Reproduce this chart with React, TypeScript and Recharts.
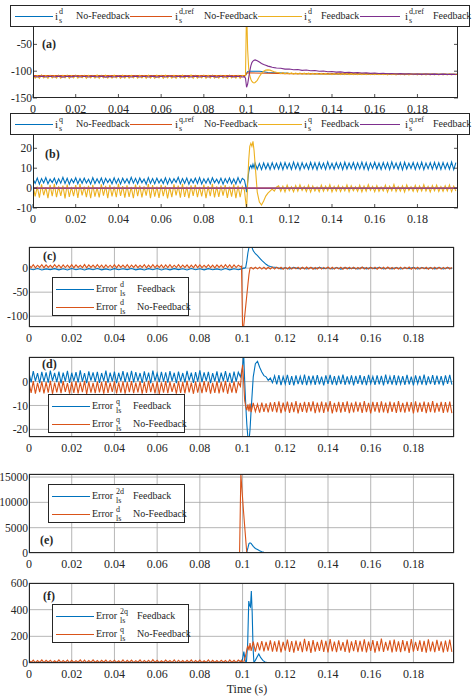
import type { ReactNode } from "react";
import { CartesianGrid, Line, LineChart, XAxis, YAxis } from "recharts";

const BLUE = "#0072BD";
const ORANGE = "#D95319";
const YELLOW = "#EDB120";
const PURPLE = "#7E2F8E";
const INK = "#262626";
const GRID = "#a3a3a3";
const SERIF = '"Liberation Serif", "Times New Roman", Times, serif';

const X_TICKS = [0, 0.02, 0.04, 0.06, 0.08, 0.1, 0.12, 0.14, 0.16, 0.18];
const X_MAX = 0.199;

// time samples (s) around the load step at 0.1 s
const T_MID = [
  0.099, 0.0995, 0.1, 0.1005, 0.101, 0.1015, 0.102, 0.1025, 0.103, 0.1035, 0.104,
  0.105, 0.106, 0.107, 0.108, 0.109, 0.11, 0.111, 0.112, 0.113, 0.114,
];

// coarse grid, for the thin traces
const T_PRE = [
  0, 0.002, 0.004, 0.006, 0.008, 0.01, 0.012, 0.014, 0.016, 0.018,
  0.02, 0.022, 0.024, 0.026, 0.028, 0.03, 0.032, 0.034, 0.036, 0.038,
  0.04, 0.042, 0.044, 0.046, 0.048, 0.05, 0.052, 0.054, 0.056, 0.058,
  0.06, 0.062, 0.064, 0.066, 0.068, 0.07, 0.072, 0.074, 0.076, 0.078,
  0.08, 0.082, 0.084, 0.086, 0.088, 0.09, 0.092, 0.094, 0.096, 0.098,
];
const T_POST = [
  0.116, 0.118, 0.12, 0.122, 0.124, 0.126, 0.128, 0.13, 0.132, 0.134,
  0.136, 0.138, 0.14, 0.142, 0.144, 0.146, 0.148, 0.15, 0.152, 0.154,
  0.156, 0.158, 0.16, 0.162, 0.164, 0.166, 0.168, 0.17, 0.172, 0.174,
  0.176, 0.178, 0.18, 0.182, 0.184, 0.186, 0.188, 0.19, 0.192, 0.194,
  0.196, 0.198,
];
const T = [...T_PRE, ...T_MID, ...T_POST];

// fine grid, for the rippling bands
const TF_PRE = [
  0, 0.001, 0.002, 0.003, 0.004, 0.005, 0.006, 0.007, 0.008, 0.009,
  0.01, 0.011, 0.012, 0.013, 0.014, 0.015, 0.016, 0.017, 0.018, 0.019,
  0.02, 0.021, 0.022, 0.023, 0.024, 0.025, 0.026, 0.027, 0.028, 0.029,
  0.03, 0.031, 0.032, 0.033, 0.034, 0.035, 0.036, 0.037, 0.038, 0.039,
  0.04, 0.041, 0.042, 0.043, 0.044, 0.045, 0.046, 0.047, 0.048, 0.049,
  0.05, 0.051, 0.052, 0.053, 0.054, 0.055, 0.056, 0.057, 0.058, 0.059,
  0.06, 0.061, 0.062, 0.063, 0.064, 0.065, 0.066, 0.067, 0.068, 0.069,
  0.07, 0.071, 0.072, 0.073, 0.074, 0.075, 0.076, 0.077, 0.078, 0.079,
  0.08, 0.081, 0.082, 0.083, 0.084, 0.085, 0.086, 0.087, 0.088, 0.089,
  0.09, 0.091, 0.092, 0.093, 0.094, 0.095, 0.096, 0.097, 0.098,
];
const TF_POST = [
  0.115, 0.116, 0.117, 0.118, 0.119, 0.12, 0.121, 0.122, 0.123, 0.124,
  0.125, 0.126, 0.127, 0.128, 0.129, 0.13, 0.131, 0.132, 0.133, 0.134,
  0.135, 0.136, 0.137, 0.138, 0.139, 0.14, 0.141, 0.142, 0.143, 0.144,
  0.145, 0.146, 0.147, 0.148, 0.149, 0.15, 0.151, 0.152, 0.153, 0.154,
  0.155, 0.156, 0.157, 0.158, 0.159, 0.16, 0.161, 0.162, 0.163, 0.164,
  0.165, 0.166, 0.167, 0.168, 0.169, 0.17, 0.171, 0.172, 0.173, 0.174,
  0.175, 0.176, 0.177, 0.178, 0.179, 0.18, 0.181, 0.182, 0.183, 0.184,
  0.185, 0.186, 0.187, 0.188, 0.189, 0.19, 0.191, 0.192, 0.193, 0.194,
  0.195, 0.196, 0.197, 0.198,
];
const TF = [...TF_PRE, ...T_MID, ...TF_POST];

// (a) d-axis currents
const A_BLUE_T = [0, 0.0995, 0.1, 0.1005, 0.101, 0.1015, 0.106, 0.108, 0.11, 0.12, 0.14, 0.199];
const A_BLUE = [-108, -108, -104, -101, -100, -100, -100, -101, -102.5, -104, -105, -106];
const A_ORANGE_T = [0, 0.0995, 0.1, 0.1005, 0.12, 0.199];
const A_ORANGE = [-108, -108, -104, -103, -104.5, -106];
const A_YELLOW = [
  -107.6, -112.9, -108.3, -113.2, -107.2, -112.4, -108.1, -113.4, -107.8, -112.6,
  -108.4, -112.8, -107.3, -113.1, -108.0, -112.5, -107.5, -113.3, -108.2, -112.7,
  -107.4, -113.0, -108.5, -112.3, -107.7, -113.2, -107.9, -112.6, -108.3, -112.9,
  -107.1, -113.4, -108.0, -112.4, -107.6, -113.1, -108.4, -112.8, -107.5, -112.5,
  -108.2, -113.3, -107.3, -112.7, -108.1, -113.0, -107.8, -112.4, -108.0, -112.9,
  -107.9, -112.6, -108.2, -113.1, -107.4, -112.8, -108.5, -113.3, -107.6, -112.5,
  -108.0, -113.2, -107.3, -112.7, -108.3, -112.9, -107.7, -113.4, -108.1, -112.4,
  -107.5, -113.0, -108.4, -112.6, -107.2, -113.1, -107.9, -112.8, -108.2, -112.5,
  -107.6, -113.3, -108.0, -112.7, -107.4, -112.9, -108.3, -113.0, -107.8, -112.4,
  -108.1, -113.2, -107.5, -112.6, -108.4, -112.8, -107.7, -113.1, -108.0,
  -110.5, -108.0, 20, -60, -95, -108, -115, -119, -121, -122, -121,
  -117, -110, -104, -100, -98, -97.5, -98, -99.5, -101, -102,
  -102.4, -104.6, -102.8, -104.9, -103.0, -105.1, -103.2, -105.3, -103.4, -105.4,
  -103.5, -105.6, -103.7, -105.7, -103.8, -105.8, -103.9, -105.9, -104.0, -106.0,
  -104.1, -106.0, -104.2, -106.1, -104.3, -106.2, -104.3, -106.2, -104.4, -106.3,
  -104.5, -106.3, -104.5, -106.4, -104.6, -106.4, -104.6, -106.5, -104.7, -106.4,
  -104.7, -106.5, -104.8, -106.6, -104.7, -106.5, -104.8, -106.6, -104.9, -106.5,
  -104.8, -106.7, -104.9, -106.6, -105.0, -106.7, -104.9, -106.6, -105.0, -106.8,
  -104.9, -106.7, -105.1, -106.6, -105.0, -106.8, -104.9, -106.7, -105.1, -106.8,
  -105.0, -106.7, -105.1, -106.9, -105.0, -106.8, -105.2, -106.7, -105.1, -106.9,
  -105.0, -106.8, -105.2, -106.8,
];
const A_PURPLE = [
  -109.4, -110.8, -109.2, -110.9, -109.5, -110.7, -109.3, -111.0, -109.4, -110.6,
  -109.1, -110.8, -109.5, -110.9, -109.3, -110.7, -109.2, -111.0, -109.6, -110.8,
  -109.3, -110.6, -109.4, -110.9, -109.2, -110.8, -109.5, -110.7, -109.3, -111.0,
  -109.4, -110.8, -109.1, -110.9, -109.5, -110.6, -109.3, -110.8, -109.2, -110.9,
  -109.4, -110.7, -109.3, -111.0, -109.5, -110.8, -109.2, -110.6, -109.4, -110.9,
  -110.3, -113, -130, -124, -112, -100, -90, -84, -81, -79.5, -79,
  -80.5, -83, -85.5, -87.5, -89, -90.5, -91.5, -92.5, -93.3, -94,
  -94.6, -96.2, -95.8, -97.3, -96.9, -98.4, -97.9, -99.3, -98.8, -100.2,
  -99.7, -101.0, -100.5, -101.7, -101.2, -102.4, -101.9, -103.0, -102.5, -103.5,
  -103.0, -104.0, -103.5, -104.4, -103.9, -104.8, -104.3, -105.1, -104.6, -105.4,
  -104.9, -105.7, -105.1, -105.9, -105.3, -106.0, -105.4, -106.1, -105.5, -106.2,
  -105.6, -106.2,
];

// (b) q-axis currents
const B_BLUE = [
  4.6, 2.4, 5.1, 2.0, 4.8, 2.6, 5.3, 2.2, 4.5, 2.8,
  5.0, 2.1, 4.7, 2.5, 5.4, 2.3, 4.9, 2.0, 4.6, 2.7,
  5.2, 2.2, 4.8, 2.4, 5.0, 2.6, 4.5, 2.1, 5.3, 2.3,
  4.7, 2.5, 5.1, 2.0, 4.9, 2.8, 4.6, 2.2, 5.2, 2.4,
  4.8, 2.1, 5.0, 2.6, 4.7, 2.3, 5.4, 2.5, 4.9, 2.2,
  5.1, 2.7, 4.6, 2.0, 5.3, 2.4, 4.8, 2.2, 5.0, 2.6,
  4.5, 2.3, 5.2, 2.1, 4.9, 2.5, 4.7, 2.8, 5.4, 2.2,
  4.8, 2.4, 5.1, 2.0, 4.6, 2.6, 5.0, 2.3, 5.3, 2.1,
  4.7, 2.5, 4.9, 2.2, 5.2, 2.7, 4.5, 2.4, 5.0, 2.0,
  4.8, 2.6, 5.1, 2.3, 4.6, 2.1, 5.3, 2.5, 4.9,
  4.0, 1.5, -2, 3, 8, 10.5, 11.5, 10.0, 12.0, 10.2, 12.5,
  9.5, 12.3, 9.3, 12.6, 9.6, 12.4, 9.4, 12.8, 9.7, 12.5,
  9.6, 12.7, 9.3, 12.9, 9.8, 12.5, 9.4, 13.1, 9.7, 12.6,
  9.2, 12.8, 9.9, 12.4, 9.5, 13.0, 9.6, 12.7, 9.3, 12.9,
  9.8, 12.6, 9.4, 13.2, 9.7, 12.5, 9.5, 12.8, 9.9, 12.7,
  9.3, 13.0, 9.6, 12.6, 9.8, 12.9, 9.4, 12.7, 9.7, 13.1,
  9.5, 12.8, 9.2, 12.6, 9.9, 13.0, 9.6, 12.5, 9.4, 12.9,
  9.7, 12.7, 9.3, 13.2, 9.8, 12.6, 9.5, 12.8, 9.2, 13.0,
  9.6, 12.5, 9.9, 12.9, 9.4, 12.7, 9.7, 13.1, 9.3, 12.6,
  9.8, 12.8, 9.5, 13.0, 9.6, 12.7, 9.4, 12.9, 9.7, 12.6,
  9.5, 13.1, 9.3, 12.8,
];
const B_YELLOW = [
  1.4, -4.2, 0.8, -4.8, 1.9, -3.6, 0.5, -5.0, 1.6, -4.1,
  2.2, -4.6, 0.9, -3.9, 1.3, -5.2, 1.8, -4.4, 0.6, -4.0,
  1.5, -4.9, 2.0, -3.7, 0.7, -4.5, 1.2, -5.1, 1.7, -4.3,
  0.4, -4.7, 1.9, -3.8, 1.1, -5.0, 1.6, -4.2, 0.8, -4.6,
  2.1, -3.9, 1.0, -4.8, 1.4, -4.4, 0.6, -5.1, 1.8, -4.0,
  1.3, -4.7, 0.9, -3.8, 2.0, -5.0, 1.5, -4.3, 0.7, -4.9,
  1.7, -4.1, 1.1, -5.2, 0.5, -4.5, 1.9, -3.7, 1.2, -4.8,
  2.2, -4.4, 0.8, -5.0, 1.4, -3.9, 1.6, -4.6, 0.6, -4.2,
  1.8, -5.1, 1.0, -4.0, 2.1, -4.7, 0.9, -4.4, 1.3, -3.8,
  1.5, -4.9, 0.7, -4.3, 1.9, -5.0, 1.2, -4.5, 0.8,
  -1.0, -6, -10.5, 2, 14, 21, 22.5, 21, 23.5, 19, 12,
  -2, -7, -8.5, -6.5, -4, -2.5, -1.5, -0.5, -1.5, 0.5,
  1.2, -1.6, 0.9, -1.9, 1.5, -1.3, 0.7, -1.8, 1.3, -1.5,
  1.6, -1.2, 0.8, -1.7, 1.4, -2.0, 1.1, -1.4, 0.6, -1.8,
  1.5, -1.6, 1.0, -1.3, 1.7, -1.9, 0.9, -1.5, 1.3, -1.7,
  0.8, -1.4, 1.6, -1.8, 1.2, -1.3, 0.7, -1.6, 1.4, -1.9,
  1.1, -1.5, 1.7, -1.2, 0.9, -1.8, 1.3, -1.6, 0.6, -1.4,
  1.5, -2.0, 1.0, -1.3, 1.8, -1.7, 0.8, -1.5, 1.2, -1.9,
  1.6, -1.2, 0.7, -1.6, 1.4, -1.8, 1.1, -1.4, 1.7, -1.5,
  0.9, -1.9, 1.3, -1.3, 1.5, -1.7, 0.8, -1.6, 1.2, -1.4,
  1.6, -1.8, 1.0, -1.5,
];
const B_REF_T = [0, 0.199];
const B_ORANGE = [0, 0];
const B_PURPLE = [0, 0];

// (c) d-axis error
const C_BLUE = [
  -1.2, -3.4, -0.8, -3.8, -1.5, -3.1, -1.0, -3.6, -1.3, -3.9,
  -0.9, -3.3, -1.4, -3.7, -1.1, -3.2, -0.7, -3.5, -1.6, -3.8,
  -1.0, -3.4, -1.2, -3.0, -0.8, -3.6, -1.5, -3.9, -1.1, -3.3,
  -0.9, -3.7, -1.3, -3.5, -1.0, -3.1, -1.4, -3.8, -0.8, -3.4,
  -1.2, -3.6, -1.0, -3.2, -1.5, -3.9, -0.9, -3.5, -1.3, -3.3,
  -2.0, -2.0, -1.0, 0, 0, 2, 15, 32, 43, 50, 48,
  36, 30, 26, 21, 16, 12, 8, 5, 3.5, 2.5,
  1.2, -1.5, 0.9, -1.8, 1.5, -1.2, 0.7, -1.6, 1.3, -1.4,
  1.6, -1.1, 0.8, -1.7, 1.4, -1.9, 1.1, -1.3, 0.6, -1.6,
  1.5, -1.4, 1.0, -1.2, 1.7, -1.8, 0.9, -1.5, 1.3, -1.6,
  0.8, -1.3, 1.6, -1.7, 1.2, -1.2, 0.7, -1.5, 1.4, -1.8,
  1.1, -1.4,
];
const C_ORANGE = [
  6.4, 1.2, 7.0, 0.8, 6.1, 1.6, 7.3, 0.9, 6.7, 1.4,
  5.9, 1.0, 7.1, 1.7, 6.5, 0.7, 6.9, 1.3, 6.2, 1.1,
  7.2, 0.9, 6.6, 1.5, 6.0, 1.2, 7.4, 0.8, 6.8, 1.6,
  6.3, 1.0, 7.0, 1.4, 6.4, 0.7, 6.9, 1.3, 6.1, 1.1,
  7.3, 0.9, 6.7, 1.5, 6.2, 1.2, 7.1, 0.8, 6.5, 1.4,
  6.8, 1.1, 6.0, 1.6, 7.2, 0.8, 6.4, 1.3, 7.0, 1.0,
  6.3, 1.5, 6.9, 0.7, 6.6, 1.2, 7.4, 0.9, 6.1, 1.4,
  7.1, 1.0, 6.5, 1.7, 6.8, 0.8, 6.2, 1.3, 7.3, 1.1,
  6.7, 0.9, 6.0, 1.5, 7.0, 1.2, 6.4, 0.8, 6.9, 1.6,
  6.3, 1.0, 7.2, 1.4, 6.6, 0.7, 6.8, 1.3, 6.1,
  3.0, 4.0, -125, -122, -100, -78, -56, -34, -13, 0, 1.5,
  -1.8, 1.9, -1.6, 2.0, -1.9, 1.7, -2.1, 1.8, -1.7, 2.0,
  -1.9, 2.1, -1.6, 1.8, -2.2, 1.5, -1.7, 2.2, -2.0, 1.6,
  -1.5, 2.0, -2.1, 1.7, -1.8, 2.3, -1.6, 1.9, -2.2, 1.4,
  -1.7, 2.1, -2.0, 1.6, -1.5, 2.2, -1.9, 1.8, -2.1, 1.5,
  -1.6, 2.0, -2.3, 1.7, -1.8, 2.1, -1.5, 1.9, -2.0, 1.6,
  -1.7, 2.2, -1.9, 1.5, -2.1, 1.8, -1.6, 2.0, -2.2, 1.7,
  -1.5, 1.9, -2.0, 2.3, -1.8, 1.6, -2.1, 1.4, -1.7, 2.1,
  -1.9, 1.8, -1.6, 2.2, -2.3, 1.5, -1.8, 2.0, -2.0, 1.7,
  -1.5, 1.9, -2.2, 1.6, -1.7, 2.1, -1.9, 1.8, -2.1, 1.5,
  -1.6, 2.0, -1.8, 1.7,
];

// (d) q-axis error
const D_BLUE = [
  3.8, -0.3, 4.4, 0.2, 3.5, -0.6, 4.1, 0.0, 3.9, -0.4,
  4.6, 0.3, 3.6, -0.2, 4.2, -0.7, 3.8, 0.1, 4.5, -0.5,
  3.7, 0.2, 4.0, -0.3, 4.7, 0.0, 3.5, -0.6, 4.3, 0.4,
  3.9, -0.1, 4.1, -0.5, 3.6, 0.2, 4.6, -0.4, 3.8, 0.1,
  4.2, -0.6, 3.7, 0.3, 4.4, -0.2, 3.9, 0.0, 4.5, -0.3,
  4.0, 0.2, 3.6, -0.5, 4.3, 0.1, 3.8, -0.7, 4.6, 0.3,
  3.5, -0.2, 4.1, 0.0, 3.9, -0.4, 4.4, 0.2, 3.7, -0.6,
  4.2, 0.1, 3.6, -0.3, 4.5, 0.4, 3.8, -0.5, 4.0, 0.0,
  4.7, -0.2, 3.9, 0.3, 4.1, -0.6, 3.5, 0.1, 4.3, -0.4,
  3.8, 0.2, 4.4, -0.1, 3.7, -0.5, 4.2, 0.0, 3.9,
  2.0, 4.0, 6.0, 12, 0, -10, -18, -23.5, -25, -20, -12,
  2, 7.5, 8.5, 6, 4, 2.5, 2.0, 0.5, 1.5, -0.5,
  2.4, -1.2, 2.7, -1.5, 2.1, -1.0, 2.8, -1.4, 2.3, -1.6,
  2.6, -1.1, 2.2, -1.3, 2.9, -1.5, 2.4, -0.9, 2.5, -1.4,
  2.7, -1.2, 2.1, -1.6, 2.6, -1.0, 2.8, -1.3, 2.3, -1.5,
  2.5, -1.1, 2.9, -1.4, 2.2, -1.2, 2.6, -1.6, 2.4, -1.0,
  2.7, -1.3, 2.3, -1.5, 2.8, -0.9, 2.1, -1.4, 2.6, -1.2,
  2.4, -1.6, 2.9, -1.1, 2.2, -1.3, 2.7, -1.5, 2.5, -1.0,
  2.3, -1.4, 2.8, -1.2, 2.1, -1.6, 2.6, -0.9, 2.4, -1.3,
  2.9, -1.5, 2.2, -1.1, 2.7, -1.4, 2.5, -1.2, 2.3, -1.6,
  2.6, -1.0, 2.8, -1.3,
];
const D_ORANGE = [
  -0.3, -4.7, 0.2, -5.0, -0.5, -4.4, 0.0, -4.9, -0.2, -4.6,
  0.3, -5.1, -0.4, -4.5, -0.1, -4.8, 0.2, -4.3, -0.6, -5.0,
  -0.2, -4.7, 0.1, -4.9, -0.3, -4.4, 0.3, -5.2, -0.1, -4.6,
  -0.5, -4.8, 0.0, -4.5, -0.2, -5.0, 0.2, -4.7, -0.4, -4.3,
  0.1, -4.9, -0.3, -4.6, 0.0, -5.1, -0.2, -4.4, 0.2, -4.8,
  -0.4, -4.5, 0.1, -5.0, -0.2, -4.7, 0.3, -4.4, -0.5, -4.9,
  0.0, -5.2, -0.3, -4.6, 0.2, -4.8, -0.1, -4.3, -0.6, -5.0,
  0.1, -4.7, -0.2, -4.9, 0.3, -4.5, -0.4, -5.1, 0.0, -4.6,
  -0.3, -4.8, 0.2, -4.4, -0.1, -5.0, -0.5, -4.7, 0.1, -4.9,
  -0.2, -4.5, 0.3, -5.1, -0.4, -4.6, 0.0, -4.8, -0.3,
  -2.0, 3.0, 7.0, 0, -8, -10.5, -12, -9.5, -12.5, -9.2, -12.8,
  -8.9, -12.6, -9.4, -13.0, -8.8, -12.7, -9.1, -12.9, -8.7, -12.6,
  -8.6, -12.9, -8.3, -13.2, -8.8, -12.6, -8.4, -13.1, -8.7, -12.8,
  -8.2, -13.3, -8.9, -12.7, -8.5, -13.0, -8.6, -12.5, -8.3, -13.2,
  -8.8, -12.9, -8.4, -13.1, -8.7, -12.6, -8.2, -13.3, -8.9, -12.8,
  -8.5, -13.0, -8.6, -12.7, -8.3, -13.2, -8.8, -12.9, -8.4, -12.6,
  -8.7, -13.1, -8.2, -12.8, -8.9, -13.3, -8.5, -12.6, -8.6, -13.0,
  -8.3, -12.9, -8.8, -13.2, -8.4, -12.7, -8.7, -13.1, -8.2, -12.8,
  -8.9, -13.0, -8.5, -12.6, -8.6, -13.3, -8.3, -12.9, -8.8, -12.7,
  -8.4, -13.2, -8.7, -12.8, -8.2, -13.0, -8.9, -12.6, -8.5, -13.1,
  -8.6, -12.9, -8.4, -13.2,
];

// (e) squared d error
const E_BLUE_T = [0, 0.1015, 0.102, 0.1025, 0.103, 0.1035, 0.104, 0.105, 0.106, 0.107, 0.108, 0.109, 0.11, 0.111, 0.113, 0.199];
const E_BLUE = [0, 0, 225, 1000, 1850, 2000, 1900, 1300, 900, 680, 440, 250, 140, 64, 0, 0];
const E_ORANGE_T = [0, 0.0986, 0.0992, 0.0998, 0.1004, 0.101, 0.1016, 0.102, 0.199];
const E_ORANGE = [0, 0, 15600, 12000, 8500, 5200, 2000, 0, 0];

// (f) squared q error
const F_BLUE_T = [
  0, 0.0995, 0.1, 0.1006, 0.1012, 0.1018, 0.1024, 0.1029, 0.1033, 0.1037, 0.1041,
  0.1045, 0.1049, 0.1053, 0.106, 0.1068, 0.1076, 0.1085, 0.1095, 0.1105, 0.112, 0.199,
];
const F_BLUE = [5, 5, 30, 85, 20, 2, 150, 465, 430, 420, 540, 380, 120, 5, 20, 45, 68, 40, 20, 8, 2, 1];
const F_ORANGE = [
  19, 4, 22, 2, 18, 5, 24, 3, 20, 6,
  21, 2, 17, 4, 23, 3, 19, 5, 22, 2,
  20, 4, 18, 6, 24, 3, 21, 2, 19, 5,
  23, 4, 18, 3, 20, 6, 22, 2, 19, 4,
  21, 5, 17, 3, 24, 2, 20, 4, 22, 3,
  18, 6, 23, 2, 19, 4, 21, 3, 25, 5,
  20, 2, 17, 4, 22, 6, 19, 3, 24, 2,
  21, 5, 18, 3, 20, 4, 23, 2, 19, 6,
  22, 3, 17, 5, 24, 2, 20, 4, 18, 3,
  21, 6, 19, 2, 23, 4, 20, 3, 22,
  10, 20, 5, 2, 30, 60, 100, 130, 95, 150, 90,
  160, 85, 155, 95, 165, 88, 158, 92, 170, 85,
  162, 86, 170, 80, 158, 92, 176, 84, 165, 78,
  168, 90, 160, 82, 182, 88, 164, 76, 171, 85,
  159, 91, 174, 83, 166, 79, 180, 87, 161, 81,
  169, 93, 157, 84, 175, 78, 163, 89, 172, 82,
  167, 86, 178, 80, 160, 90, 171, 77, 164, 88,
  183, 84, 158, 92, 169, 79, 176, 86, 162, 81,
  172, 89, 165, 76, 180, 85, 159, 91, 170, 83,
  166, 78, 177, 87, 161, 82, 173, 90, 163, 80,
  168, 86, 175, 84,
];

const pts = (t: number[], v: number[]) => t.map((x, i) => ({ t: x, v: v[i] }));

interface Series {
  key: string;
  color: string;
  t: number[];
  v: number[];
}

interface PanelDef {
  id: string;
  box: { left: number; right: number; top: number; bottom: number };
  domain: [number, number];
  yTicks: number[];
  grid: boolean;
  tag: { x: number; y: number };
  series: Series[];
}

const PANELS: PanelDef[] = [
  {
    id: "a",
    box: { left: 33, right: 458, top: 26, bottom: 98 },
    domain: [-150, -15.7],
    yTicks: [-150, -100, -50],
    grid: false,
    tag: { x: 42, y: 44 },
    series: [
      { key: "blue", color: BLUE, t: A_BLUE_T, v: A_BLUE },
      { key: "orange", color: ORANGE, t: A_ORANGE_T, v: A_ORANGE },
      { key: "yellow", color: YELLOW, t: TF, v: A_YELLOW },
      { key: "purple", color: PURPLE, t: T, v: A_PURPLE },
    ],
  },
  {
    id: "b",
    box: { left: 33, right: 458, top: 134, bottom: 208 },
    domain: [-10, 27.2],
    yTicks: [-10, 0, 10, 20],
    grid: false,
    tag: { x: 45, y: 154 },
    series: [
      { key: "blue", color: BLUE, t: TF, v: B_BLUE },
      { key: "orange", color: ORANGE, t: B_REF_T, v: B_ORANGE },
      { key: "yellow", color: YELLOW, t: TF, v: B_YELLOW },
      { key: "purple", color: PURPLE, t: B_REF_T, v: B_PURPLE },
    ],
  },
  {
    id: "c",
    box: { left: 29, right: 454, top: 247, bottom: 327 },
    domain: [-122.5, 44],
    yTicks: [-100, -50, 0],
    grid: true,
    tag: { x: 43, y: 256 },
    series: [
      { key: "blue", color: BLUE, t: T, v: C_BLUE },
      { key: "orange", color: ORANGE, t: TF, v: C_ORANGE },
    ],
  },
  {
    id: "d",
    box: { left: 29, right: 454, top: 357, bottom: 437 },
    domain: [-23.2, 10.3],
    yTicks: [-20, -10, 0],
    grid: true,
    tag: { x: 42, y: 364 },
    series: [
      { key: "blue", color: BLUE, t: TF, v: D_BLUE },
      { key: "orange", color: ORANGE, t: TF, v: D_ORANGE },
    ],
  },
  {
    id: "e",
    box: { left: 29, right: 454, top: 474, bottom: 553 },
    domain: [0, 15600],
    yTicks: [0, 5000, 10000, 15000],
    grid: true,
    tag: { x: 40, y: 540 },
    series: [
      { key: "blue", color: BLUE, t: E_BLUE_T, v: E_BLUE },
      { key: "orange", color: ORANGE, t: E_ORANGE_T, v: E_ORANGE },
    ],
  },
  {
    id: "f",
    box: { left: 29, right: 454, top: 583, bottom: 663 },
    domain: [0, 600],
    yTicks: [0, 200, 400, 600],
    grid: true,
    tag: { x: 43, y: 596 },
    series: [
      { key: "blue", color: BLUE, t: F_BLUE_T, v: F_BLUE },
      { key: "orange", color: ORANGE, t: TF, v: F_ORANGE },
    ],
  },
];

const PAD = 8;
const X_AXIS_H = 22;
const fmtX = (v: number) => String(+v.toFixed(2));

function Panel({ p }: { p: PanelDef }) {
  const { box } = p;
  const plotW = box.right - box.left;
  const plotH = box.bottom - box.top;
  const bottomY = PAD + plotH;

  const xTick = (props: any) => {
    const { x, payload } = props;
    return (
      <g>
        {!p.grid && <line x1={x} x2={x} y1={bottomY} y2={bottomY - 4} stroke={INK} strokeWidth={0.8} />}
        <text x={x} y={bottomY + 10.5} dy="0.35em" textAnchor="middle" fill={INK} fontSize={12} fontFamily={SERIF}>
          {fmtX(payload.value)}
        </text>
      </g>
    );
  };

  const yTick = (props: any) => {
    const { y, payload } = props;
    return (
      <g>
        {!p.grid && (
          <>
            <line x1={box.left} x2={box.left + 4} y1={y} y2={y} stroke={INK} strokeWidth={0.8} />
            <line x1={box.right - 4} x2={box.right} y1={y} y2={y} stroke={INK} strokeWidth={0.8} />
          </>
        )}
        <text x={box.left - 1} y={y} dy="0.35em" textAnchor="end" fill={INK} fontSize={11.5} fontFamily={SERIF}>
          {payload.value}
        </text>
      </g>
    );
  };

  return (
    <>
      <div style={{ position: "absolute", left: 0, top: box.top - PAD }}>
        <LineChart
          width={474}
          height={PAD + plotH + X_AXIS_H}
          margin={{ top: PAD, right: 474 - box.right, bottom: 0, left: 0 }}
        >
          {p.grid && <CartesianGrid stroke={GRID} strokeWidth={0.8} />}
          <XAxis
            dataKey="t"
            type="number"
            domain={[0, X_MAX]}
            ticks={X_TICKS}
            interval={0}
            allowDataOverflow
            height={X_AXIS_H}
            axisLine={false}
            tickLine={false}
            tick={xTick}
          />
          <YAxis
            type="number"
            domain={p.domain}
            ticks={p.yTicks}
            interval={0}
            allowDataOverflow
            width={box.left}
            axisLine={false}
            tickLine={false}
            tick={yTick}
          />
          {p.series.map((s) => (
            <Line
              key={s.key}
              name={`${p.id}-${s.key}`}
              data={pts(s.t, s.v)}
              dataKey="v"
              type="linear"
              stroke={s.color}
              strokeWidth={1.1}
              dot={false}
              activeDot={false}
              isAnimationActive={false}
            />
          ))}
        </LineChart>
      </div>
      <div
        style={{
          position: "absolute",
          left: box.left,
          top: box.top,
          width: plotW,
          height: plotH,
          border: `1px solid ${INK}`,
          boxSizing: "border-box",
          pointerEvents: "none",
        }}
      />
      <div
        style={{
          position: "absolute",
          left: p.tag.x,
          top: p.tag.y - 8,
          lineHeight: "16px",
          fontSize: 12,
          fontWeight: "bold",
        }}
      >
        ({p.id})
      </div>
    </>
  );
}

function Stack({ sup, sub }: { sup: string; sub: string }) {
  return (
    <span
      style={{
        display: "inline-flex",
        flexDirection: "column",
        fontSize: 8,
        lineHeight: "9px",
        marginLeft: 1,
      }}
    >
      <span>{sup}</span>
      <span>{sub}</span>
    </span>
  );
}

function SwatchLine({ x1, x2, y, color }: { x1: number; x2: number; y: number; color: string }) {
  return (
    <div
      style={{ position: "absolute", left: x1, top: Math.round(y), width: x2 - x1, height: 1.3, background: color }}
    />
  );
}

function Word({ x, y, children }: { x: number; y: number; children: ReactNode }) {
  return (
    <div style={{ position: "absolute", left: x, top: y - 7, lineHeight: "14px", fontSize: 10, whiteSpace: "nowrap" }}>
      {children}
    </div>
  );
}

function Sym({ x, y, base, sup, sub }: { x: number; y: number; base: string; sup: string; sub: string }) {
  return (
    <div style={{ position: "absolute", left: x, top: y - 9, height: 18, display: "flex", alignItems: "center", whiteSpace: "nowrap" }}>
      {base && <span style={{ fontSize: 11, lineHeight: "14px" }}>{base}</span>}
      <Stack sup={sup} sub={sub} />
    </div>
  );
}

// top legends of (a) and (b)
const TOP_ITEMS = [
  { color: BLUE, line: [15, 53], sym: 55, word: 76, text: "No-Feedback", ref: false },
  { color: ORANGE, line: [130, 172], sym: 175, word: 204, text: "No-Feedback", ref: true },
  { color: YELLOW, line: [258, 302], sym: 304, word: 321, text: "Feedback", ref: false },
  { color: PURPLE, line: [360, 400], sym: 405, word: 433, text: "Feedback", ref: true },
];

function TopLegend({ top, axis }: { top: number; axis: string }) {
  const y = top + 10.5;
  return (
    <>
      <div
        style={{
          position: "absolute",
          left: 10,
          top,
          width: 460,
          height: 22,
          border: `1px solid ${INK}`,
          boxSizing: "border-box",
          background: "#fff",
        }}
      />
      {TOP_ITEMS.map((it, i) => (
        <div key={i}>
          <SwatchLine x1={it.line[0]} x2={it.line[1]} y={y} color={it.color} />
          <Sym x={it.sym} y={y} base="i" sup={it.ref ? `${axis},ref` : axis} sub="s" />
          <Word x={it.word} y={y}>{it.text}</Word>
        </div>
      ))}
    </>
  );
}

function ErrLegend({ left, top, rows }: { left: number; top: number; rows: { color: string; sup: string; text: string }[] }) {
  return (
    <>
      <div
        style={{
          position: "absolute",
          left,
          top,
          width: 137,
          height: 39,
          border: `1px solid ${INK}`,
          boxSizing: "border-box",
          background: "#fff",
        }}
      />
      {rows.map((r, i) => {
        const y = top + 11.5 + i * 18;
        return (
          <div key={i}>
            <SwatchLine x1={left + 4} x2={left + 42} y={y} color={r.color} />
            <Word x={left + 44} y={y}>Error</Word>
            <Sym x={left + 67} y={y} base="" sup={r.sup} sub="ls" />
            <Word x={left + 85} y={y}>{r.text}</Word>
          </div>
        );
      })}
    </>
  );
}

export default function App() {
  return (
    <div
      style={{
        position: "absolute",
        left: 0,
        top: 0,
        width: 474,
        height: 700,
        background: "#fff",
        fontFamily: SERIF,
        color: INK,
        overflow: "hidden",
      }}
    >
      {PANELS.map((p) => (
        <Panel key={p.id} p={p} />
      ))}
      <TopLegend top={5} axis="d" />
      <TopLegend top={113} axis="q" />
      <ErrLegend
        left={52}
        top={277}
        rows={[
          { color: BLUE, sup: "d", text: "Feedback" },
          { color: ORANGE, sup: "d", text: "No-Feedback" },
        ]}
      />
      <ErrLegend
        left={48}
        top={394}
        rows={[
          { color: BLUE, sup: "q", text: "Feedback" },
          { color: ORANGE, sup: "q", text: "No-Feedback" },
        ]}
      />
      <ErrLegend
        left={48}
        top={484}
        rows={[
          { color: BLUE, sup: "2d", text: "Feedback" },
          { color: ORANGE, sup: "d", text: "No-Feedback" },
        ]}
      />
      <ErrLegend
        left={52}
        top={604}
        rows={[
          { color: BLUE, sup: "2q", text: "Feedback" },
          { color: ORANGE, sup: "q", text: "No-Feedback" },
        ]}
      />
      <div
        style={{
          position: "absolute",
          left: 197,
          width: 100,
          top: 681,
          lineHeight: "16px",
          fontSize: 12,
          textAlign: "center",
        }}
      >
        Time (s)
      </div>
    </div>
  );
}
